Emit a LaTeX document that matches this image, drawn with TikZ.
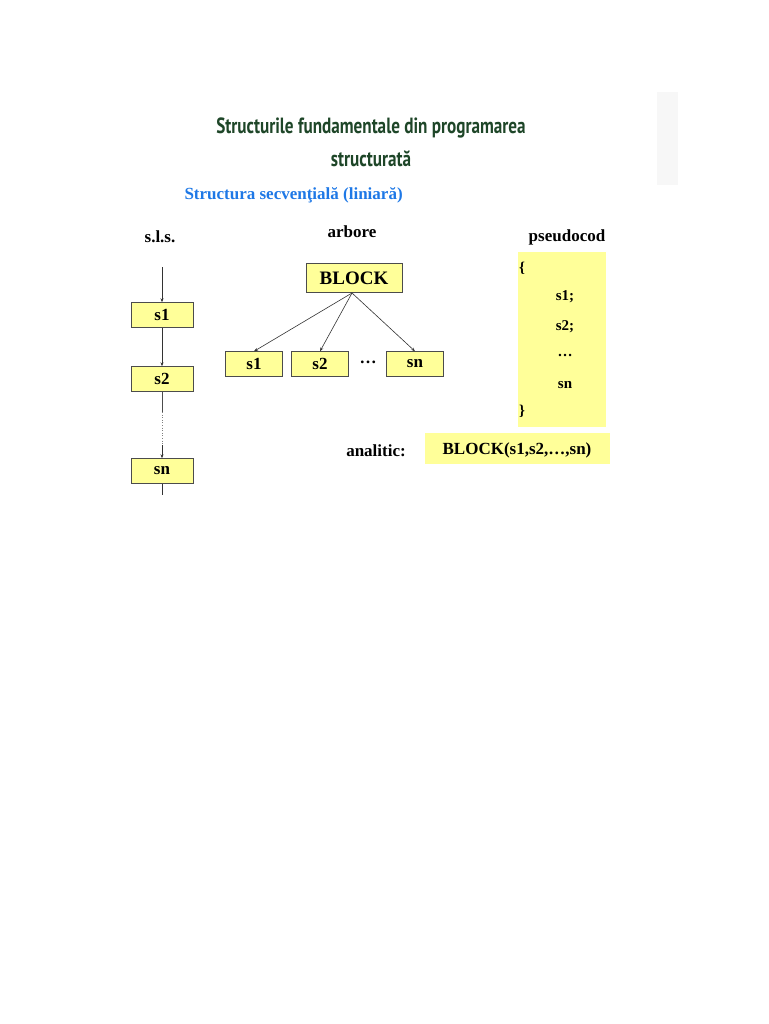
\documentclass[tikz,border=0pt]{standalone}
\usepackage{fontspec}
\usepackage{graphicx}
\usetikzlibrary{arrows.meta}
\setmainfont{Liberation Serif}
\newfontfamily\titlefont{PT Sans}
\definecolor{boxy}{RGB}{255,255,153}
\definecolor{ttl}{RGB}{30,70,40}
\definecolor{sub}{RGB}{30,120,230}
\tikzset{
  sbox/.style={draw=black!70, fill=boxy, minimum width=62pt, minimum height=25pt, inner sep=0pt, font=\fontsize{17}{17}\selectfont\bfseries},
  tbox/.style={sbox, minimum width=57pt},
  lab/.style={font=\fontsize{17}{17}\selectfont\bfseries},
  arr/.style={-{Stealth[length=4pt,width=3pt]}, black!80, line width=0.6pt}
}
\begin{document}
\begin{tikzpicture}[x=1pt,y=-1pt]
\useasboundingbox (0,0) rectangle (768,1024);
\fill[black!3] (657,92) rectangle (678,185);
\node[text=ttl] (t1) at (371,128) {\scalebox{0.78}[1]{\titlefont\fontsize{22}{22}\selectfont\bfseries Structurile fundamentale din programarea}};
\node[text=ttl] (t2) at (371,159) {\scalebox{0.78}[1]{\titlefont\fontsize{22}{22}\selectfont\bfseries structurată}};
\node[text=sub, anchor=west, font=\fontsize{17}{17}\selectfont\bfseries] (st) at (181,195) {Structura secvenţială (liniară)};
\node[lab] (h1) at (160,237) {s.l.s.};
\node[lab] (h2) at (352,232) {arbore};
\node[lab] (h3) at (567,237) {pseudocod};
% left chain
\coordinate (top) at (162,267);
\node[sbox] (a1) at (162,315) {s1};
\node[sbox] (a2) at (162,379) {s2};
\node[sbox] (an) at (162,471) {sn};
\coordinate (bot) at (162,495);
\coordinate (m1) at (162,412);
\coordinate (m2) at (162,445);
\draw[arr] (top) -- (a1);
\draw[arr] (a1) -- (a2);
\draw[black!70, line width=0.5pt] (a2) -- (m1);
\draw[black!50, dotted, line width=0.6pt] (m1) -- (m2);
\draw[arr] (m2) -- (an);
\draw[black!80, line width=0.6pt] (an) -- (bot);
% tree
\node[sbox, minimum width=96pt, minimum height=29pt, font=\fontsize{19}{19}\selectfont\bfseries] (blk) at (354,278) {BLOCK};
\node[tbox] (b1) at (254,364) {s1};
\node[tbox] (b2) at (320,364) {s2};
\node[lab] (bd) at (368,362) {…};
\node[tbox] (bn) at (415,364) {sn};
\coordinate (bs) at (352,293);
\draw[arr] (bs) -- (b1.north);
\draw[arr] (bs) -- (b2.north);
\draw[arr] (bs) -- (bn.north);
% pseudocode
\fill[boxy] (518,252) rectangle (606,427);
\node[lab, font=\fontsize{15}{15}\selectfont\bfseries] (p0) at (522,268) {\{};
\node[lab, font=\fontsize{15}{15}\selectfont\bfseries] (p1) at (565,297) {s1;};
\node[lab, font=\fontsize{15}{15}\selectfont\bfseries] (p2) at (565,327) {s2;};
\node[lab, font=\fontsize{15}{15}\selectfont\bfseries] (p3) at (565,355) {…};
\node[lab, font=\fontsize{15}{15}\selectfont\bfseries] (p4) at (565,385) {sn};
\node[lab, font=\fontsize{15}{15}\selectfont\bfseries] (p5) at (522,411) {\}};
% analitic
\node[lab] (an1) at (376,451) {analitic:};
\fill[boxy] (425,433) rectangle (610,464);
\node[lab] (an2) at (517,450) {BLOCK(s1,s2,…,sn)};
\end{tikzpicture}
\end{document}
